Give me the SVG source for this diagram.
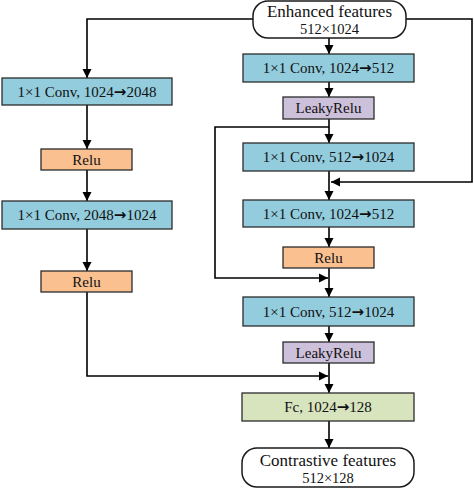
<svg xmlns="http://www.w3.org/2000/svg" width="474" height="488" viewBox="0 0 474 488">
<style>
.box{stroke:#2b2b2b;stroke-width:1.3}
.conv{fill:#93CDDD}
.relu{fill:#FAC090}
.leaky{fill:#CCC0DA}
.fc{fill:#D7E4BD}
.term{fill:#ffffff;stroke:#1a1a1a;stroke-width:1.5}
.t{font-family:"Liberation Serif","Times New Roman",serif;font-size:15px;fill:#111;text-anchor:middle}
.ar{font-family:"DejaVu Sans",sans-serif;font-weight:bold;font-size:15px}
.big{font-size:17px}
.small{font-size:14.5px}
.c{fill:none;stroke:#000;stroke-width:1.6}
</style>
<defs>
<marker id="ah" viewBox="0 0 10 10" refX="10" refY="5" markerWidth="9" markerHeight="10" markerUnits="userSpaceOnUse" orient="auto">
<path d="M0,0 L10,5 L0,10 Z" fill="#000"/>
</marker>
</defs>
<g id="connectors">
<path class="c" d="M329,38 V54" marker-end="url(#ah)"/>
<path class="c" d="M329,82 V97" marker-end="url(#ah)"/>
<path class="c" d="M329,119 V143" marker-end="url(#ah)"/>
<path class="c" d="M329,171 V200" marker-end="url(#ah)"/>
<path class="c" d="M329,227 V247" marker-end="url(#ah)"/>
<path class="c" d="M329,268 V297" marker-end="url(#ah)"/>
<path class="c" d="M329,326 V342" marker-end="url(#ah)"/>
<path class="c" d="M329,363 V393" marker-end="url(#ah)"/>
<path class="c" d="M329,421 V448" marker-end="url(#ah)"/>
<path class="c" d="M329,127 H215 V278 H328" marker-end="url(#ah)"/>
<path class="c" d="M406,19 H472 V182 H331" marker-end="url(#ah)"/>
<path class="c" d="M253,19 H87 V78" marker-end="url(#ah)"/>
<path class="c" d="M87,105 V149" marker-end="url(#ah)"/>
<path class="c" d="M87,170 V201" marker-end="url(#ah)"/>
<path class="c" d="M87,229 V271" marker-end="url(#ah)"/>
<path class="c" d="M87,292 V376 H328" marker-end="url(#ah)"/>
</g>
<g id="enhanced">
<rect class="term" x="253" y="1" width="153" height="37" rx="15"/>
<text class="t big" x="329.5" y="17">Enhanced features</text>
<text class="t small" x="329.5" y="34">512×1024</text>
</g>
<g id="conv1">
<rect class="box conv" x="243" y="54" width="171" height="28"/>
<text class="t" x="328.5" y="73">1×1 Conv, 1024<tspan class="ar">→</tspan>512</text>
</g>
<g id="leaky1">
<rect class="box leaky" x="283" y="97" width="91" height="22"/>
<text class="t" x="328.5" y="113">LeakyRelu</text>
</g>
<g id="conv2">
<rect class="box conv" x="243" y="143" width="171" height="28"/>
<text class="t" x="328.5" y="162">1×1 Conv, 512<tspan class="ar">→</tspan>1024</text>
</g>
<g id="conv3">
<rect class="box conv" x="243" y="200" width="171" height="27"/>
<text class="t" x="328.5" y="218.5">1×1 Conv, 1024<tspan class="ar">→</tspan>512</text>
</g>
<g id="relu3">
<rect class="box relu" x="283" y="247" width="91" height="21"/>
<text class="t" x="328.5" y="262.5">Relu</text>
</g>
<g id="conv4">
<rect class="box conv" x="243" y="297" width="171" height="29"/>
<text class="t" x="328.5" y="316.5">1×1 Conv, 512<tspan class="ar">→</tspan>1024</text>
</g>
<g id="leaky2">
<rect class="box leaky" x="283" y="342" width="91" height="21"/>
<text class="t" x="328.5" y="357.5">LeakyRelu</text>
</g>
<g id="fc">
<rect class="box fc" x="242" y="393" width="172" height="28"/>
<text class="t" x="328" y="412">Fc, 1024<tspan class="ar">→</tspan>128</text>
</g>
<g id="contrastive">
<rect class="term" x="242" y="448" width="172" height="39" rx="15"/>
<text class="t big" x="328" y="466">Contrastive features</text>
<text class="t small" x="328" y="483">512×128</text>
</g>
<g id="convL1">
<rect class="box conv" x="2" y="78" width="170" height="27"/>
<text class="t" x="87" y="96.5">1×1 Conv, 1024<tspan class="ar">→</tspan>2048</text>
</g>
<g id="reluL1">
<rect class="box relu" x="41" y="149" width="91" height="21"/>
<text class="t" x="86.5" y="164.5">Relu</text>
</g>
<g id="convL2">
<rect class="box conv" x="2" y="201" width="170" height="28"/>
<text class="t" x="87" y="220">1×1 Conv, 2048<tspan class="ar">→</tspan>1024</text>
</g>
<g id="reluL2">
<rect class="box relu" x="41" y="271" width="91" height="21"/>
<text class="t" x="86.5" y="286.5">Relu</text>
</g>
</svg>
